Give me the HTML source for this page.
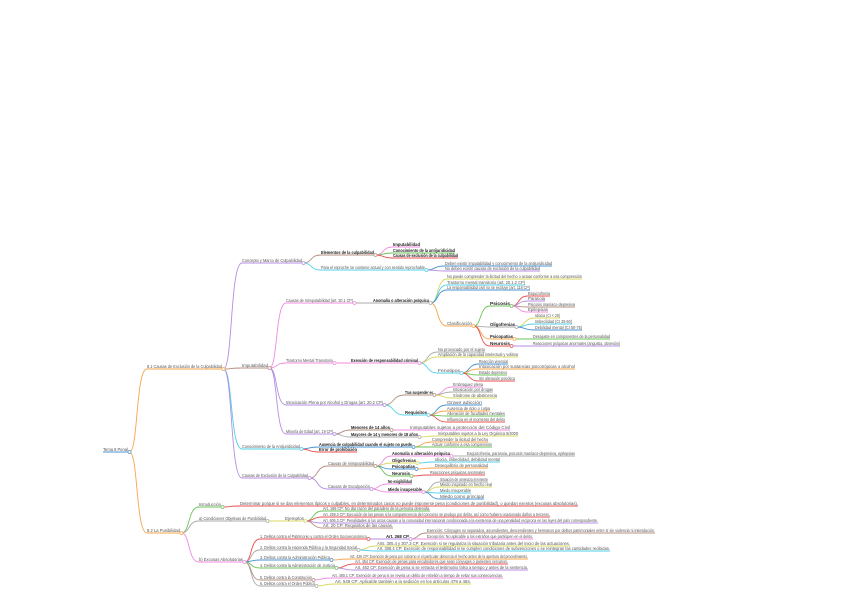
<!DOCTYPE html>
<html><head><meta charset="utf-8"><style>
html,body{margin:0;padding:0;background:#fff;}
svg{display:block}
text{font-family:"Liberation Sans",sans-serif;font-size:4.3px;fill:#555}
text.b{font-weight:bold;fill:#222}
</style></head><body>
<svg id="s" width="848" height="599" viewBox="0 0 848 599" xmlns="http://www.w3.org/2000/svg"></svg>
<script>
const C={o:"#f7a44a",p:"#b48ee0",k:"#f08be0",w:"#b38f80",c:"#4fd0e8",u:"#4a90d0",g:"#6cc35a",r:"#e85050",a:"#aaaaaa",y:"#d8d860"};
function N(x1,x2,y,t,c,b,ch,circ){return {x1,x2,y,t,c:C[c],b,ch:ch||[],circ:circ!==false&&ch&&ch.length>0};}
const tree=N(103,128,452,"Tema 8 Penal","u",0,[
 N(147,222,369,"8.1 Causas de Exclusión de la Culpabilidad","o",0,[
  N(242,302,263,"Concepto y Marco de Culpabilidad","p",0,[
   N(321,374,255,"Elementos de la culpabilidad","w",1,[
    N(393,420,247,"Imputabilidad","k",1),
    N(393,455,253,"Conocimiento de la antijuridicidad","g",1),
    N(393,458,258,"Causas de exclusión de la culpabilidad","r",1)]),
   N(321,425,270,"Para el reproche se contiene actual y con sentido reprochable","c",0,[
    N(445,552,266,"Deben existir imputabilidad y conocimiento de la antijuridicidad","u",0),
    N(445,540,271,"No deben existir causas de exclusión de la culpabilidad","p",0)])]),
  N(242,268,368,"Imputabilidad","w",0,[
   N(286,353,303,"Causas de Inimputabilidad (art. 20.1 CP)","k",0,[
    N(373,429,303,"Anomalía o alteración psíquica","a",1,[
     N(447,582,279,"No puede comprender la ilicitud del hecho o actuar conforme a esa comprensión","y",0),
     N(447,525,285,"Trastorno mental transitorio (art. 20.1.2 CP)","c",0),
     N(447,530,290,"La responsabilidad civil no se excluye (art. 118 CP)","u",0),
     N(447,472,326,"Clasificación","o",0,[
      N(490,510,306,"Psicosis","g",1,[
       N(528,550,296,"Esquizofrenia","r",0),N(528,545,301,"Paranoia","p",0),
       N(528,575,307,"Psicosis maníaco-depresiva","w",0),N(528,548,312,"Epilepsias","k",0)]),
      N(490,515,327,"Oligofrenias","a",1,[
       N(535,560,318,"Idiocia (CI < 25)","y",0),N(535,572,324,"Imbecilidad (CI 25-50)","c",0),
       N(535,582,330,"Debilidad mental (CI 50-75)","u",0)]),
      N(490,513,339,"Psicopatías","o",1,[N(533,610,339,"Desajuste en componentes de la personalidad","g",0)]),
      N(490,510,346,"Neurosis","r",1,[N(533,620,346,"Reacciones psíquicas anormales (angustia, obsesión)","p",0)])])])]),
   N(286,333,363,"Trastorno Mental Transitorio","k",0,[
    N(351,418,363,"Exención de responsabilidad criminal","k",1,[
     N(438,485,352,"No provocado por el sujeto","a",0),
     N(438,518,357,"Ampliación de la capacidad intelectual y volitiva","y",0),
     N(438,460,373,"Fenotipos","c",0,[
      N(479,508,364,"Reacción vivencial","u",0),N(479,575,369,"Intoxicación por sustancias psicotrópicas o alcohol","o",0),
      N(479,507,375,"Estado depresivo","g",0),N(479,515,381,"Sin alteración psicótica","r",0)])])]),
   N(286,383,405,"Intoxicación Plena por Alcohol y Drogas (art. 20.2 CP)","p",0,[
    N(405,433,395,"Tras suspender es","w",1,[
     N(453,483,387,"Embriaguez plena","k",0),N(453,493,392,"Intoxicación por drogas","a",0),N(453,497,398,"Síndrome de abstinencia","y",0)]),
    N(405,427,415,"Requisitos","c",1,[
     N(447,482,405,"Grave adicción","u",0),N(447,490,411,"Ausencia de dolo o culpa","o",0),
     N(447,505,416,"Alteración de facultades mentales","g",0),N(447,505,422,"Influencia en el momento del delito","r",0)])]),
   N(286,333,434,"Minoría de Edad (art. 19 CP)","p",0,[
    N(351,390,430,"Menores de 14 años","w",1,[N(410,510,430,"Inimputables sujetos a protección del Código Civil","k",0)]),
    N(351,418,437,"Mayores de 14 y menores de 18 años","a",1,[N(438,518,436,"Inimputables sujetos a la Ley Orgánica 5/2000","y",0)])])]),
  N(242,300,449,"Conocimiento de la Antijuridicidad","c",0,[
   N(319,412,447,"Ausencia de culpabilidad cuando el sujeto no puede","u",1,[
    N(432,488,442,"Comprender la ilicitud del hecho","o",0),N(432,492,447,"Actuar conforme a esa comprensión","g",0)]),
   N(319,357,452,"Error de prohibición","r",1)]),
  N(242,308,478,"Causas de Exclusión de la Culpabilidad","p",0,[
   N(328,374,466,"Causas de Inimputabilidad","w",0,[
    N(392,450,456,"Anomalía o alteración psíquica","k",1,[N(467,575,456,"Esquizofrenia, paranoia, psicosis maníaco-depresiva, epilepsias","a",0)]),
    N(392,416,463,"Oligofrenias","y",1,[N(435,500,462,"Idiocia, imbecilidad, debilidad mental","c",0)]),
    N(392,415,469,"Psicopatías","u",1,[N(435,488,468,"Desequilibrio de personalidad","o",0)]),
    N(392,410,476,"Neurosis","g",1,[N(430,485,475,"Reacciones psíquicas anormales","r",0)])]),
   N(328,370,489,"Causas de Exculpación","p",0,[
    N(388,412,484,"No exigibilidad","k",1),
    N(388,422,492,"Miedo insuperable","k",1,[
     N(440,488,482,"Situación de amenaza inminente","a",0),N(440,492,487,"Miedo inspirado en hecho real","y",0),
     N(440,471,493,"Miedo insuperable","c",0),N(440,484,499,"Miedo como principal","u",0)])])])]),
 N(147,180,533,"8.2 La Punibilidad","o",0,[
  N(199,221,507,"Introducción","g",0,[
   N(240,578,506,"Determinar porque si se dan elementos típicos y culpables, en determinados casos no puede imponerse pena (condiciones de punibilidad), o quedan exentos (excusas absolutorias).","r",0)]),
  N(199,266,521,"a) Condiciones Objetivas de Punibilidad","a",0,[
   N(285,304,521,"Ejemplos","y",0,[
    N(323,430,511,"Art. 166 CP: No dar razón del paradero de la persona detenida.","g",0),
    N(323,550,517,"Art. 259.3 CP: Ejecución de las penas si la comparecencia del concurso se produjo por delito, así como hubiera ocasionado daños a terceros.","r",0),
    N(323,598,523,"Art. 606.3 CP: Penalidades si los actos causan a la comunidad internacional condicionada a la existencia de una penalidad recíproca en las leyes del país correspondiente.","p",0),
    N(323,393,528,"Art. 20 CP: Requisitos de las causas.","w",0)])]),
  N(199,243,562,"b) Excusas Absolutorias","k",0,[
   N(260,367,539,"1. Delitos contra el Patrimonio y contra el Orden Socioeconómico","r",0,[
    N(386,409,539,"Art. 268 CP","p",1,[
     N(427,655,533,"Exención: Cónyuges no separados, ascendientes, descendientes y hermanos por delitos patrimoniales entre sí sin violencia ni intimidación.","w",0),
     N(427,533,539,"Excepción: No aplicable a los extraños que participen en el delito.","k",0)])]),
   N(260,357,550,"2. Delitos contra la Hacienda Pública y la Seguridad Social","a",0,[
    N(377,570,546,"Arts. 305.4 y 307.3 CP: Exención si se regulariza la situación tributaria antes del inicio de las actuaciones.","y",0),
    N(377,610,551,"Art. 308.4 CP: Exención de responsabilidad si se cumplen condiciones de subvenciones o se reintegran las cantidades recibidas.","c",0)]),
   N(260,330,560,"3. Delitos contra la Administración Pública","u",0,[
    N(350,528,559,"Art. 426 CP: Exención de pena por soborno si el particular denuncia el hecho antes de la apertura del procedimiento.","o",0)]),
   N(260,335,568,"4. Delitos contra la Administración de Justicia","g",0,[
    N(355,508,564,"Art. 454 CP: Exención de penas para encubridores que sean cónyuges o parientes cercanos.","r",0),
    N(355,528,570,"Art. 462 CP: Exención de pena si se retracta el testimonio falso a tiempo y antes de la sentencia.","p",0)]),
   N(260,312,580,"5. Delitos contra la Constitución","w",0,[
    N(332,503,578,"Art. 480.1 CP: Exención de pena si se revela un delito de rebelión a tiempo de evitar sus consecuencias.","k",0)]),
   N(260,315,586,"6. Delitos contra el Orden Público","a",0,[
    N(335,471,584,"Art. 549 CP: Aplicable también a la sedición en los artículos 479 a 484.","y",0)])])])]);
let out="";
function draw(n){
  for(const c of n.ch){
    const sx=n.x2+1.5, sy=n.y, ex=c.x1, ey=c.y, m=(sx+ex)/2;
    out+=`<path d="M${sx},${sy} C${m},${sy} ${m-(ex-sx)*0.15},${ey} ${ex},${ey}" fill="none" stroke="${c.c}" stroke-width="0.9"/>`;
    draw(c);
  }
  out+=`<line x1="${n.x1}" y1="${n.y}" x2="${n.x2}" y2="${n.y}" stroke="${n.c}" stroke-width="0.9"/>`;
  const w=n.x2-n.x1;
  out+=`<text x="${n.x1}" y="${n.y-1}" class="${n.b?'b':''}" textLength="${w}" lengthAdjust="spacingAndGlyphs">${n.t}</text>`;
  if(n.circ) out+=`<circle cx="${n.x2+1.5}" cy="${n.y}" r="1.5" fill="#fff" stroke="${n.c}" stroke-width="0.7"/>`;
}
draw(tree);
out=`<line x1="103" y1="452" x2="128" y2="452" stroke="${C.u}" stroke-width="0.9"/>`+out;
document.getElementById("s").innerHTML=out;
</script>
</body></html>
